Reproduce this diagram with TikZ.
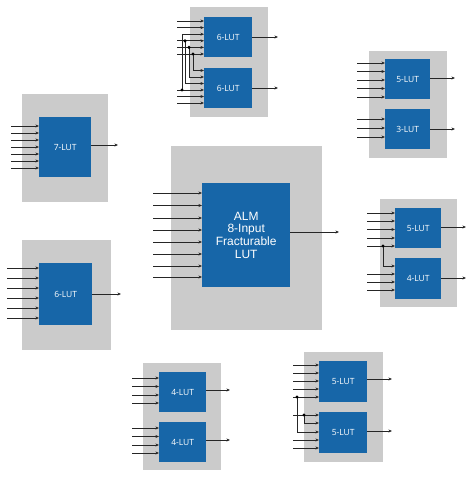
\documentclass[tikz,border=0pt]{standalone}
\usepackage{fontspec}
\setmainfont{Liberation Sans}
\newfontfamily\lutfont{Open Sans}
\usetikzlibrary{arrows.meta}
\definecolor{lutblue}{HTML}{1766A8}
\definecolor{lutgray}{HTML}{CBCBCB}
\tikzset{
  graybox/.style={fill=lutgray,draw=none},
  lutbox/.style={fill=lutblue,draw=none,text=white,inner sep=0pt,anchor=north west,
     font=\lutfont\fontsize{8.5}{9}\selectfont},
  sig/.style={draw=black!85,line width=0.75pt,-{Stealth[length=3.6pt,width=3pt]}},
  jdot/.style={circle,fill=black,inner sep=0pt,minimum size=3.4pt}
}
\begin{document}
\begin{tikzpicture}[x=1pt,y=-1pt]
\useasboundingbox (0,0) rectangle (474,477);
% ---------- gray backgrounds ----------
\fill[graybox] (171,146) rectangle (322,330);
\fill[graybox] (22,94) rectangle (108,202);
\fill[graybox] (22,240) rectangle (111,350);
\fill[graybox] (190,7) rectangle (268,117);
\fill[graybox] (369,51) rectangle (447,158);
\fill[graybox] (380,199) rectangle (457,307);
\fill[graybox] (143,363) rectangle (221,470);
\fill[graybox] (304,352) rectangle (383,462);
% ---------- LUT boxes ----------
\node[lutbox,minimum width=88pt,minimum height=104pt,align=center,
      font=\fontsize{12}{12.7}\selectfont] (alm) at (202,183)
      {ALM\\8-Input\\Fracturable\\LUT};
\node[lutbox,minimum width=52pt,minimum height=60pt] (l7) at (39,117) {7-LUT};
\node[lutbox,minimum width=53pt,minimum height=62pt] (l6) at (39,263) {6-LUT};
\node[lutbox,minimum width=48pt,minimum height=40pt] (t6a) at (204,17) {6-LUT};
\node[lutbox,minimum width=48pt,minimum height=40pt] (t6b) at (204,68) {6-LUT};
\node[lutbox,minimum width=45pt,minimum height=40pt] (r5) at (385,59) {5-LUT};
\node[lutbox,minimum width=45pt,minimum height=40pt] (r3) at (385,109) {3-LUT};
\node[lutbox,minimum width=46pt,minimum height=40pt] (s5) at (395,208) {5-LUT};
\node[lutbox,minimum width=46pt,minimum height=41pt] (s4) at (395,258) {4-LUT};
\node[lutbox,minimum width=47pt,minimum height=40pt] (b4a) at (159,372) {4-LUT};
\node[lutbox,minimum width=47pt,minimum height=40pt] (b4b) at (159,422) {4-LUT};
\node[lutbox,minimum width=48pt,minimum height=41pt] (b5a) at (319,361) {5-LUT};
\node[lutbox,minimum width=48pt,minimum height=41pt] (b5b) at (319,412) {5-LUT};
% ---------- output end points ----------
\coordinate (oalm) at (339,232);
\coordinate (ol7) at (118,145);
\coordinate (ol6) at (121,294);
\coordinate (ot6a) at (278,37);
\coordinate (ot6b) at (278,88);
\coordinate (or5) at (455,78);
\coordinate (or3) at (455,129);
\coordinate (os5) at (466,227);
\coordinate (os4) at (466,278);
\coordinate (ob4a) at (230,390);
\coordinate (ob4b) at (230,440);
\coordinate (ob5a) at (392,379);
\coordinate (ob5b) at (392,431);
\foreach \n in {alm,l7,l6,t6a,t6b,r5,r3,s5,s4,b4a,b4b,b5a,b5b}
  \draw[sig] (\n.east |- o\n) -- (o\n);
% ---------- inputs ----------
\foreach \y in {193,205.5,218,230,242,254,266,277}
  \draw[sig] (153,\y) -- (alm.west |- {0,\y});
\foreach \y in {126,133,140,147,154,161,168}
  \draw[sig] (11,\y) -- (l7.west |- {0,\y});
\foreach \y in {268,278,288,298,308,318}
  \draw[sig] (7,\y) -- (l6.west |- {0,\y});
% top pair of 6-LUTs
\foreach \y in {21,27.6,40.8,47.4,54}
  \draw[sig] (177,\y) -- (t6a.west |- {0,\y});
\draw[sig] (182,90) -- (182,34.2) -- (t6a.west |- {0,34.2});
\foreach \y in {90,96.5,103}
  \draw[sig] (177,\y) -- (t6b.west |- {0,\y});
\draw[sig] (185,40.8) -- (185,83.5) -- (t6b.west |- {0,83.5});
\draw[sig] (189,47.4) -- (189,77) -- (t6b.west |- {0,77});
\draw[sig] (193,54) -- (193,70.5) -- (t6b.west |- {0,70.5});
\node[jdot] (d1) at (182,90) {};
\node[jdot] (d2) at (185,40.8) {};
\node[jdot] (d3) at (189,47.4) {};
\node[jdot] (d4) at (193,54) {};
% right 5/3
\foreach \y in {63,71.5,80,88.5,97}
  \draw[sig] (357,\y) -- (r5.west |- {0,\y});
\foreach \y in {119,128,137}
  \draw[sig] (357,\y) -- (r3.west |- {0,\y});
% right 5/4
\foreach \y in {213,221,229.5,238,246}
  \draw[sig] (367,\y) -- (s5.west |- {0,\y});
\draw[sig] (383,246) -- (383,266) -- (s4.west |- {0,266});
\foreach \y in {274,282,290}
  \draw[sig] (367,\y) -- (s4.west |- {0,\y});
\node[jdot] (d5) at (383,246) {};
% bottom 4/4
\foreach \y in {378,386.5,395,403}
  \draw[sig] (132,\y) -- (b4a.west |- {0,\y});
\foreach \y in {428,436.5,445,453}
  \draw[sig] (132,\y) -- (b4b.west |- {0,\y});
% bottom 5/5
\foreach \y in {365,373,381,389,397}
  \draw[sig] (293,\y) -- (b5a.west |- {0,\y});
\foreach \y in {415,440,448}
  \draw[sig] (293,\y) -- (b5b.west |- {0,\y});
\draw[sig] (297,397) -- (297,432) -- (b5b.west |- {0,432});
\draw[sig] (304,415) -- (304,423) -- (b5b.west |- {0,423});
\node[jdot] (d6) at (297,397) {};
\node[jdot] (d7) at (304,415) {};
\end{tikzpicture}
\end{document}
